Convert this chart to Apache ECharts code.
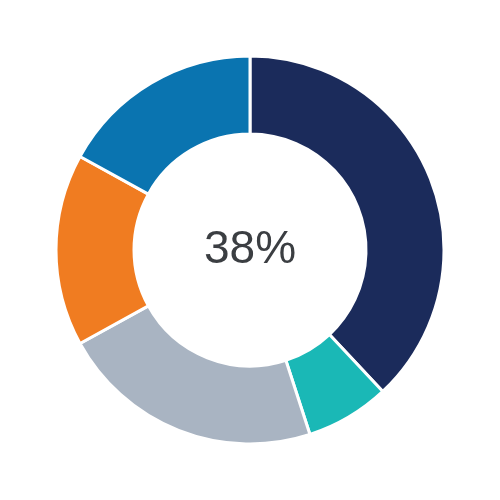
<!DOCTYPE html>
<html>
<head>
<meta charset="utf-8">
<script src="https://cdn.jsdelivr.net/npm/echarts@6/dist/echarts.min.js"></script>
<style>html,body{margin:0;padding:0;background:#fff}#c{width:500px;height:500px}</style>
</head>
<body>
<div id="c"></div>
<script>
const categories = ['A', 'B', 'C', 'D', 'E'];
const values = [38, 7, 22, 16, 17];
const colors = ['#1b2b5b', '#1ab8b6', '#a9b4c2', '#f07c21', '#0a74b0'];
const centerLabel = '38%';

const chart = echarts.init(document.getElementById('c'));
chart.setOption({
  animation: false,
  title: {
    text: centerLabel,
    left: 'center',
    top: 'middle',
    textStyle: { fontFamily: 'Liberation Sans', fontSize: 46, fontWeight: 'normal', color: '#3b3e42' }
  },
  series: [{
    type: 'pie',
    center: [250, 250],
    radius: [116, 194],
    startAngle: 90,
    clockwise: true,
    label: { show: false },
    labelLine: { show: false },
    itemStyle: { borderColor: '#ffffff', borderWidth: 3 },
    emphasis: { disabled: true },
    data: categories.map((c, i) => ({ name: c, value: values[i], itemStyle: { color: colors[i] } }))
  }]
});
</script>
</body>
</html>
